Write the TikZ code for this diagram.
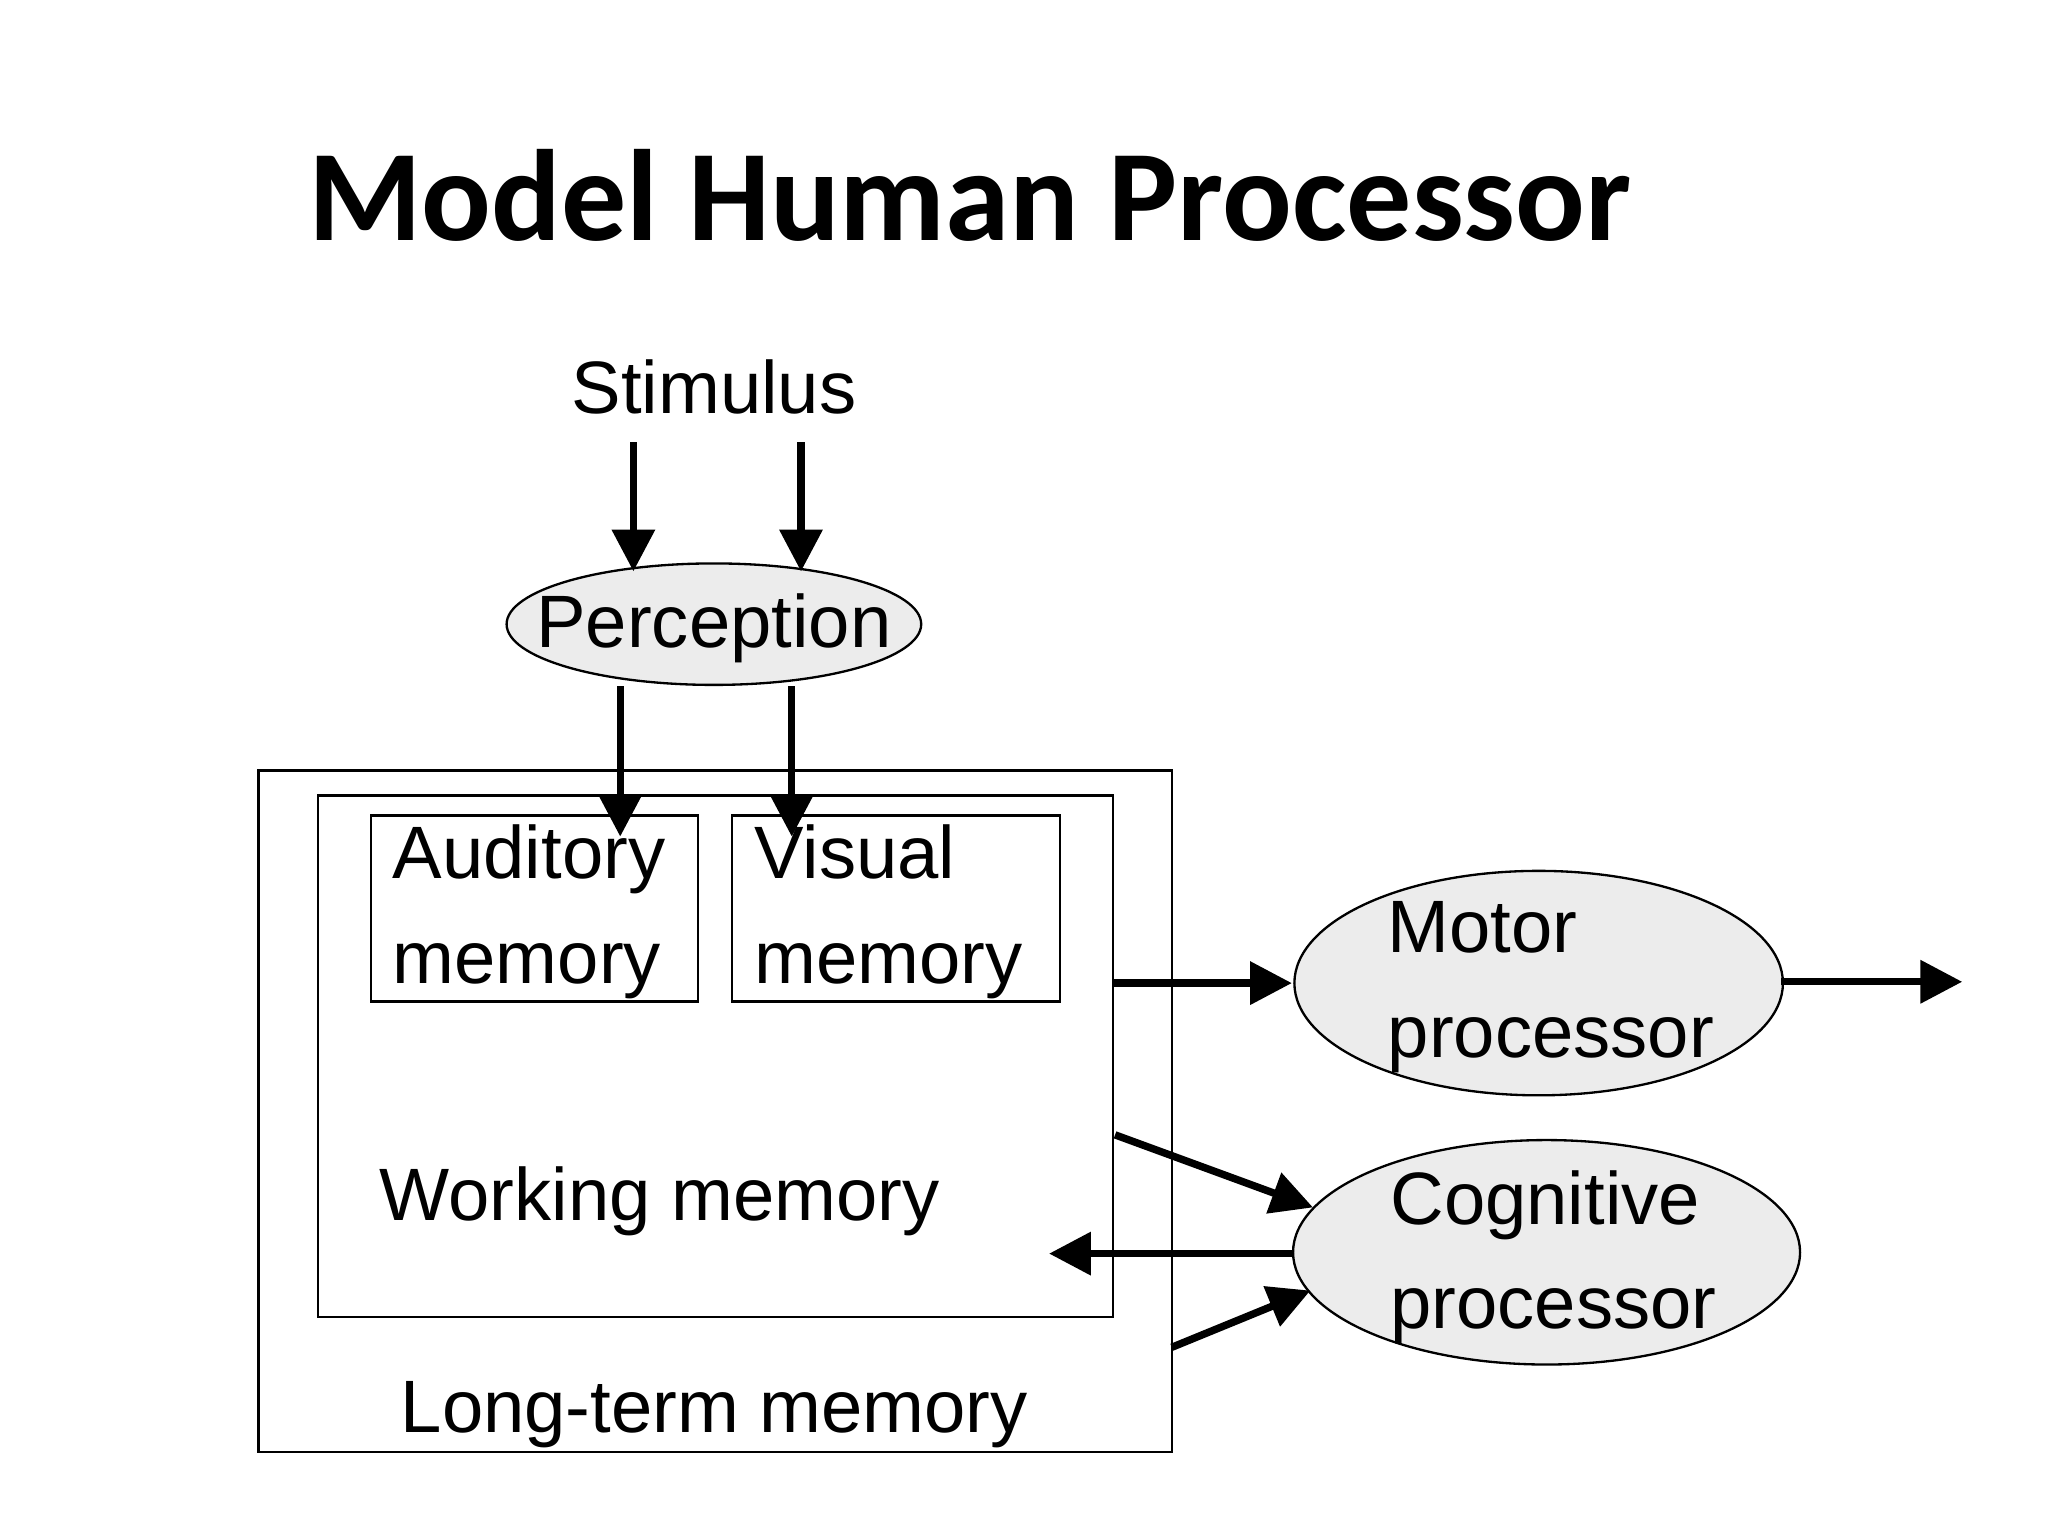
\documentclass[tikz,border=0pt]{standalone}
\usepackage{fontspec}
\setmainfont{Liberation Sans}
\newfontfamily\titlefont{Carlito}
\usetikzlibrary{shapes.geometric,arrows.meta}
\begin{document}
\begin{tikzpicture}[x=0.01cm,y=-0.01cm,
  lbl/.style={font=\fontsize{16}{19.5}\selectfont, inner sep=0pt},
  box/.style={draw, line width=0.5pt, inner sep=0pt},
  ell/.style={draw, ellipse, fill=gray!15, line width=0.5pt, inner sep=0pt},
  arr/.style={line width=1.6pt, -{Triangle[length=9pt,width=9pt]}}]
\useasboundingbox (0,0) rectangle (1552,1164);
\node[font=\titlefont\bfseries\fontsize{28}{32}\selectfont] (title) at (735,148) {Model Human Processor};
\node[lbl] (stim) at (541,293) {Stimulus};
\node[ell, minimum width=314\pgflinewidth, minimum width=3.14cm, minimum height=0.92cm] (perc) at (541,473) {};
\node[lbl] at (541,476) {Perception};
\node[box, minimum width=6.92cm, minimum height=5.16cm] (ltm) at (542,842) {};
\node[box, minimum width=6.02cm, minimum height=3.95cm] (wm) at (542,800.5) {};
\node[box, minimum width=2.48cm, minimum height=1.41cm] (aud) at (405,688.5) {};
\node[box, minimum width=2.48cm, minimum height=1.41cm] (vis) at (679,688.5) {};
\node[lbl, anchor=west, align=left, font=\fontsize{16}{22.5}\selectfont] at (297,691) {Auditory\\memory};
\node[lbl, anchor=west, align=left, font=\fontsize{16}{22.5}\selectfont] at (571,691) {Visual\\memory};
\node[lbl] (wmt) at (500,910) {Working memory};
\node[lbl, anchor=west] (ltmt) at (303,1072) {Long-term memory};
\node[ell, minimum width=3.70cm, minimum height=1.70cm] (mot) at (1166,745) {};
\node[lbl, anchor=west, align=left, font=\fontsize{16}{22.5}\selectfont] at (1051,748) {Motor\\processor};
\node[ell, minimum width=3.84cm, minimum height=1.70cm] (cog) at (1172,949) {};
\node[lbl, anchor=west, align=left, font=\fontsize{16}{22.5}\selectfont] at (1053,953) {Cognitive\\processor};
\coordinate (s1) at (480,335); \coordinate (s2) at (607,335);
\coordinate (p1) at (480,433); \coordinate (p2) at (607,433);
\coordinate (q1) at (470,520); \coordinate (q2) at (600,520);
\coordinate (a1) at (470,634); \coordinate (v1) at (600,634);
\coordinate (w1) at (843,745); \coordinate (m1) at (979,745);
\coordinate (m2) at (1350,744); \coordinate (out) at (1487,744);
\coordinate (w2) at (845,860); \coordinate (c1) at (995,915);
\coordinate (c2) at (980,950); \coordinate (w3) at (795,950);
\coordinate (l1) at (888,1021); \coordinate (c3) at (993,978);
\draw[arr] (s1) -- (p1);
\draw[arr] (s2) -- (p2);
\draw[arr] (q1) -- (a1);
\draw[arr] (q2) -- (v1);
\draw[arr] (w1) -- (m1);
\draw[arr] (m2) -- (out);
\draw[arr] (w2) -- (c1);
\draw[arr] (c2) -- (w3);
\draw[arr] (l1) -- (c3);
\end{tikzpicture}
\end{document}
